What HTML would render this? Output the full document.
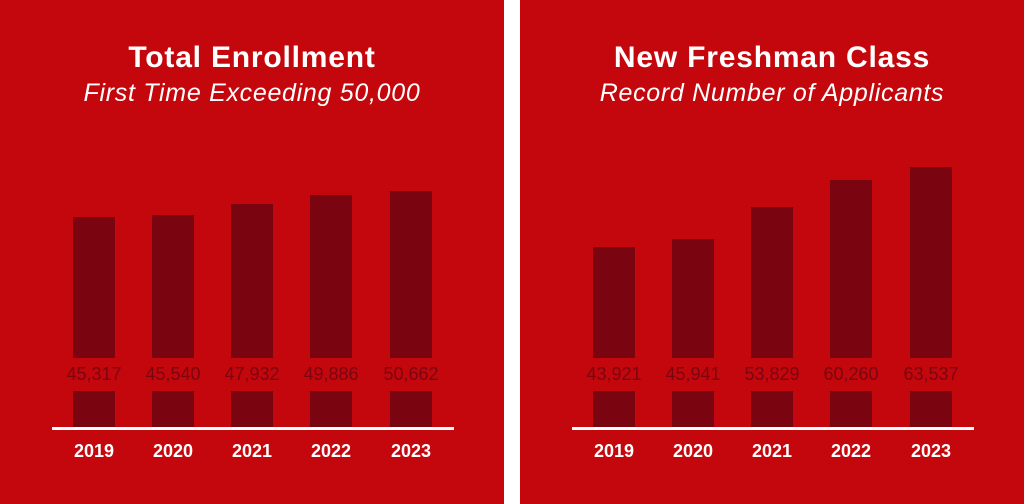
<!DOCTYPE html>
<html><head><meta charset="utf-8"><style>
body{margin:0;width:1024px;height:504px;background:#fff;position:relative;overflow:hidden;font-family:"Liberation Sans",sans-serif}
.p{position:absolute;top:0;width:504px;height:504px;background:#c4070c}
.t{position:absolute;left:0;width:100%;text-align:center;color:#fff}
.h{top:41px;font-size:30px;font-weight:bold;letter-spacing:0.8px}
.s{top:79px;font-size:25px;font-style:italic;letter-spacing:0.7px}
.b{position:absolute;width:42px;background:#7a0510;bottom:76px}
.g{position:absolute;width:62px;height:33px;top:358px;background:#c4070c;margin-left:-10px;text-align:center;line-height:33px;font-size:18px;color:#7a0510}
.ax{position:absolute;top:427px;height:3px;background:#fff}
.y{position:absolute;top:441px;width:60px;margin-left:-9px;text-align:center;color:#fff;font-weight:bold;font-size:18px}
</style></head><body>
<div class="p" style="left:0">
<div class="t h">Total Enrollment</div><div class="t s">First Time Exceeding 50,000</div>
<div class="b" style="left:73px;top:217px"></div><div class="g" style="left:73px">45,317</div>
<div class="b" style="left:152px;top:215px"></div><div class="g" style="left:152px">45,540</div>
<div class="b" style="left:231px;top:204px"></div><div class="g" style="left:231px">47,932</div>
<div class="b" style="left:310px;top:195px"></div><div class="g" style="left:310px">49,886</div>
<div class="b" style="left:390px;top:191px"></div><div class="g" style="left:390px">50,662</div>
<div class="ax" style="left:52px;width:402px"></div>
<div class="y" style="left:73px">2019</div><div class="y" style="left:152px">2020</div><div class="y" style="left:231px">2021</div><div class="y" style="left:310px">2022</div><div class="y" style="left:390px">2023</div>
</div>
<div class="p" style="left:520px">
<div class="t h">New Freshman Class</div><div class="t s">Record Number of Applicants</div>
<div class="b" style="left:73px;top:247px"></div><div class="g" style="left:73px">43,921</div>
<div class="b" style="left:152px;top:239px"></div><div class="g" style="left:152px">45,941</div>
<div class="b" style="left:231px;top:207px"></div><div class="g" style="left:231px">53,829</div>
<div class="b" style="left:310px;top:180px"></div><div class="g" style="left:310px">60,260</div>
<div class="b" style="left:390px;top:167px"></div><div class="g" style="left:390px">63,537</div>
<div class="ax" style="left:52px;width:402px"></div>
<div class="y" style="left:73px">2019</div><div class="y" style="left:152px">2020</div><div class="y" style="left:231px">2021</div><div class="y" style="left:310px">2022</div><div class="y" style="left:390px">2023</div>
</div>
</body></html>
